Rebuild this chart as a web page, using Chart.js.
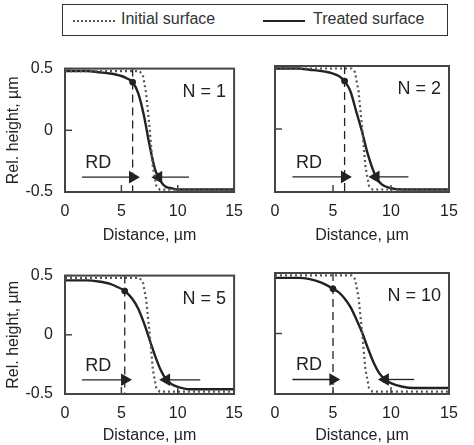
<!DOCTYPE html>
<html>
<head>
<meta charset="utf-8">
<script src="https://cdn.jsdelivr.net/npm/chart.js@4"></script>
<style>
  body { margin: 0; width: 474px; height: 445px; background: #fff; position: relative; overflow: hidden; font-family: "Liberation Sans", Arial, sans-serif; }
  .panel { position: absolute; }
  #legend { position: absolute; left: 62px; top: 4px; width: 386px; height: 32px; border: 1.5px solid #333; box-sizing: border-box; font-size: 16px; color: #333; }
  #legend span { position: absolute; top: 5px; }
  .sample { position: absolute; top: 15px; width: 42px; height: 0; }
</style>
</head>
<body>
<div id="legend">
  <div class="sample" style="left:10px;border-top:2.5px dotted #555"></div>
  <span style="left:58px">Initial surface</span>
  <div class="sample" style="left:200px;border-top:2.5px solid #222"></div>
  <span style="left:250px">Treated surface</span>
</div>
<div class="panel" style="left:0;top:55px;width:245px;height:190px"><canvas id="c1"></canvas></div>
<div class="panel" style="left:245px;top:55px;width:229px;height:190px"><canvas id="c2"></canvas></div>
<div class="panel" style="left:0;top:262px;width:245px;height:183px"><canvas id="c3"></canvas></div>
<div class="panel" style="left:245px;top:262px;width:229px;height:183px"><canvas id="c4"></canvas></div>
<script>
// Data
const xTicks = [0, 5, 10, 15];
const yTicks = [-0.5, 0, 0.5];

const initialX = [0, 6.6, 6.9, 7.2, 7.5, 7.8, 8.1, 8.4, 15];
const initialY = [0.48, 0.48, 0.45, 0.3, 0.02, -0.3, -0.45, -0.48, -0.48];

const treated1X = [0, 2, 3, 4, 5, 5.5, 6, 6.5, 7, 7.5, 8, 8.3, 8.7, 9, 9.5, 10, 12, 15];
const treated1Y = [0.48, 0.48, 0.47, 0.46, 0.44, 0.42, 0.39, 0.3, 0.12, -0.12, -0.32, -0.38, -0.44, -0.46, -0.47, -0.48, -0.48, -0.48];

const treated2X = [0, 2, 3, 4, 5, 5.5, 6, 6.5, 7, 7.5, 8, 8.7, 9.2, 10, 11, 12, 15];
const treated2Y = [0.48, 0.48, 0.47, 0.46, 0.44, 0.42, 0.38, 0.3, 0.14, -0.02, -0.2, -0.38, -0.44, -0.47, -0.48, -0.48, -0.48];

const treated5X = [0, 2, 3, 4, 4.5, 5.3, 6, 6.5, 7, 7.5, 8, 8.5, 9, 9.5, 10, 11, 12, 15];
const treated5Y = [0.46, 0.46, 0.45, 0.43, 0.41, 0.37, 0.3, 0.22, 0.1, -0.04, -0.18, -0.3, -0.38, -0.42, -0.44, -0.46, -0.46, -0.46];

const treated10X = [0, 2, 3, 4, 5, 5.5, 6, 6.5, 7, 7.5, 8, 8.5, 9, 9.5, 10, 11, 12, 15];
const treated10Y = [0.46, 0.46, 0.45, 0.42, 0.37, 0.34, 0.29, 0.22, 0.12, 0.01, -0.12, -0.24, -0.33, -0.38, -0.41, -0.44, -0.45, -0.45];

const panelN = [1, 2, 5, 10];
const markerX = [6, 6, 5.3, 5];
const markerY = [0.39, 0.38, 0.37, 0.37];
const endX = [8.3, 8.7, 9, 9.5];
const arrowY = -0.38;
const arrowStart = 1.5;
const arrowEnd = [11, 11.5, 12, 12];

const ink = '#222';

function pts(xs, ys) { return xs.map((x, i) => ({ x: x, y: ys[i] })); }

const framePlugin = {
    id: 'frame',
    afterDatasetsDraw(chart, args, opts) {
        const { ctx, chartArea: a, scales } = chart;
        ctx.save();
        ctx.strokeStyle = '#444';
        ctx.lineWidth = 2;
        ctx.strokeRect(a.left, a.top, a.right - a.left, a.bottom - a.top);
        // inside ticks
        ctx.lineWidth = 1.5;
        xTicks.forEach(v => {
            const px = scales.x.getPixelForValue(v);
            ctx.beginPath(); ctx.moveTo(px, a.bottom); ctx.lineTo(px, a.bottom - 7); ctx.stroke();
        });
        yTicks.forEach(v => {
            const py = scales.y.getPixelForValue(v);
            ctx.beginPath(); ctx.moveTo(a.left, py); ctx.lineTo(a.left + 7, py); ctx.stroke();
        });
        ctx.fillStyle = ink;
        ctx.font = '18px "Liberation Sans", Arial, sans-serif';
        ctx.textAlign = 'right';
        ctx.fillText('N = ' + opts.n, a.right - 8, a.top + 28);
        ctx.textAlign = 'left';
        ctx.fillText('RD', scales.x.getPixelForValue(1.8), scales.y.getPixelForValue(arrowY) - 9);
        ctx.restore();
    }
};

function makeChart(id, i, treatedX, treatedY, left, xH) {
    const font = { family: '"Liberation Sans", Arial, sans-serif', size: 16 };
    new Chart(document.getElementById(id), {
        type: 'scatter',
        data: {
            datasets: [
                { data: pts(initialX, initialY), showLine: true, borderColor: '#555', borderWidth: 2.2, borderDash: [2, 3], pointRadius: 0, tension: 0 },
                { data: pts(treatedX, treatedY), showLine: true, borderColor: ink, borderWidth: 2.4, pointRadius: 0, cubicInterpolationMode: 'monotone' },
                { data: [{ x: markerX[i], y: 0.5 }, { x: markerX[i], y: -0.5 }], showLine: true, borderColor: ink, borderWidth: 1.3, borderDash: [8, 5], pointRadius: 0 },
                { data: [{ x: markerX[i], y: markerY[i] }, { x: endX[i], y: arrowY }], showLine: false, pointRadius: 3, backgroundColor: ink, borderColor: ink },
                { data: [{ x: arrowStart, y: arrowY }, { x: markerX[i], y: arrowY }], showLine: true, borderColor: ink, borderWidth: 1.3, pointStyle: 'triangle', pointRotation: 90, pointRadius: [0, 6], backgroundColor: ink },
                { data: [{ x: arrowEnd[i], y: arrowY }, { x: endX[i], y: arrowY }], showLine: true, borderColor: ink, borderWidth: 1.3, pointStyle: 'triangle', pointRotation: -90, pointRadius: [0, 6], backgroundColor: ink }
            ]
        },
        options: {
            responsive: true,
            maintainAspectRatio: false,
            animation: false,
            layout: { padding: { top: 11, right: left ? 5 : 25, left: left ? 2 : 0 } },
            plugins: { legend: { display: false }, tooltip: { enabled: false }, frame: { n: panelN[i] } },
            scales: {
                x: {
                    type: 'linear', min: 0, max: 15,
                    afterBuildTicks: s => { s.ticks = xTicks.map(v => ({ value: v })); },
                    ticks: { color: ink, font: font, padding: 2 },
                    grid: { display: false },
                    border: { display: false },
                    title: { display: true, text: 'Distance, µm', color: ink, font: font, padding: 0 },
                    afterFit: s => { s.height = xH; }
                },
                y: {
                    min: -0.5, max: 0.5,
                    afterBuildTicks: s => { s.ticks = yTicks.map(v => ({ value: v })); },
                    ticks: { color: ink, font: font, padding: 4, display: left },
                    grid: { display: false },
                    border: { display: false },
                    title: { display: left, text: 'Rel. height, µm', color: ink, font: font, padding: 2 },
                    afterFit: s => { s.width = left ? 63 : 30; }
                }
            }
        },
        plugins: [framePlugin]
    });
}

makeChart('c1', 0, treated1X, treated1Y, true, 53);
makeChart('c2', 1, treated2X, treated2Y, false, 53);
makeChart('c3', 2, treated5X, treated5Y, true, 51);
makeChart('c4', 3, treated10X, treated10Y, false, 51);
</script>
</body>
</html>
